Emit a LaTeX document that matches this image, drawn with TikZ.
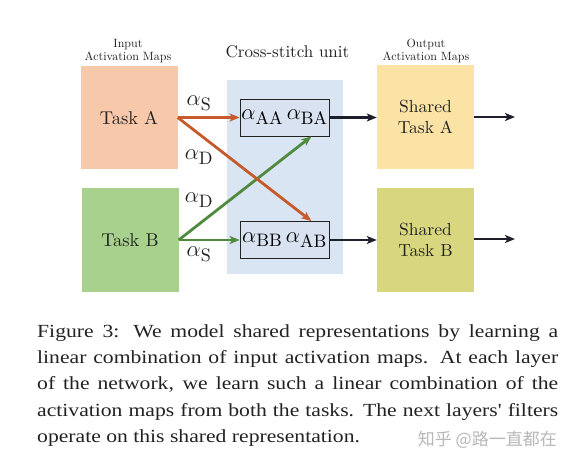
\RequirePackage{fix-cm}
\documentclass[tikz,border=0pt]{standalone}
\usepackage{fontspec}
\usetikzlibrary{arrows.meta,calc}
\setmainfont{lmroman10-regular.otf}
\newfontfamily\capfont{Liberation Serif}[FakeStretch=1.17]
\newfontfamily\cjk{Noto Sans CJK SC}
\DeclareMathSizes{22.5}{22.5}{18}{13}
\definecolor{taskAc}{HTML}{F8C8AA}
\definecolor{taskBc}{HTML}{A9D18E}
\definecolor{shAc}{HTML}{FBE3A6}
\definecolor{shBc}{HTML}{D8D77F}
\definecolor{unitc}{HTML}{DAE5F4}
\definecolor{abc}{HTML}{D8E2F0}
\definecolor{orangec}{HTML}{C65A2A}
\definecolor{greenc}{HTML}{4F8A3F}
\definecolor{darkc}{HTML}{1F1F2B}
\definecolor{textc}{HTML}{222222}
\tikzset{
  mapbox/.style={minimum width=97pt,minimum height=104pt,inner sep=0pt,align=center,text=textc,
    font=\fontsize{17.5}{20.5}\selectfont},
  taskfont/.style={font=\fontsize{18.5}{20}\selectfont},
  abbox/.style={draw=textc,line width=0.8pt,fill=abc,minimum width=89pt,minimum height=37pt,inner sep=0pt,
    font=\fontsize{22.5}{24}\selectfont},
  smalltitle/.style={align=center,text=textc,font=\fontsize{12}{13}\selectfont,inner sep=0pt},
  alab/.style={font=\fontsize{22.5}{24}\selectfont,inner sep=0pt,text=textc},
  tip/.style={-{Stealth[length=10pt,width=8pt,inset=2.5pt]}},
  oarrow/.style={tip,draw=orangec,line width=2.8pt},
  garrow/.style={tip,draw=greenc,line width=2.8pt},
  karrow/.style={tip,draw=darkc,line width=2.8pt},
}
\begin{document}
\begin{tikzpicture}[x=1pt,y=-1pt]
\useasboundingbox (0,0) rectangle (571,465);
\fill[white] (0,0) rectangle (571,465);
% titles
\node[smalltitle] (tin) at (128,51.5) {Input\\Activation Maps};
\node[smalltitle] (tout) at (426,51) {Output\\Activation Maps};
\node[text=textc,font=\fontsize{17}{19}\selectfont,inner sep=0pt] (tunit) at (287.5,52) {Cross-stitch unit};
% unit background
\node[fill=unitc,minimum width=116pt,minimum height=194pt,inner sep=0pt] (unit) at (285,177) {};
% input maps
\node[mapbox,taskfont,fill=taskAc,minimum height=103pt] (taskA) at (129,117.5) {Task A};
\node[mapbox,taskfont,fill=taskBc] (taskB) at (130,240) {Task B};
% output maps
\node[mapbox,fill=shAc] (shA) at (425.5,117) {Shared\\Task A};
\node[mapbox,fill=shBc] (shB) at (425.5,240) {Shared\\Task B};
% alpha boxes
\node[abbox] (abA) at (284.5,117.5) {$\alpha_{\mathrm{AA}}\,\alpha_{\mathrm{BA}}$};
\node[abbox] (abB) at (284.5,240) {$\alpha_{\mathrm{BB}}\,\alpha_{\mathrm{AB}}$};
% helper coordinates
\coordinate (abAin) at ($(abA.south west)!0.8!(abA.south east)$);
\coordinate (abBin) at ($(abB.north west)!0.8!(abB.north east)$);
\coordinate (outA) at (515,117);
\coordinate (outB) at (515,239);
% arrows
\draw[garrow] (taskB.east) -- (abB.west);
\draw[garrow] (taskB.east) -- (abAin);
\draw[oarrow] (taskA.east) -- (abA.west);
\draw[oarrow] (taskA.east) -- (abBin);
\draw[karrow] (abA.east) -- (shA.west |- abA.east);
\draw[karrow] (abB.east) -- (shB.west |- abB.east);
\draw[karrow] (shA.east |- outA) -- (outA);
\draw[karrow] (shB.east |- outB) -- (outB);
% alpha labels
\node[alab] (lsA) at (199,103) {$\alpha_{\mathrm{S}}$};
\node[alab] (ldA) at (199,157) {$\alpha_{\mathrm{D}}$};
\node[alab] (ldB) at (199,200) {$\alpha_{\mathrm{D}}$};
\node[alab] (lsB) at (199,254) {$\alpha_{\mathrm{S}}$};
% caption
\node[anchor=north west,inner sep=0pt,text width=521pt,align=justify,text=textc,
  font=\capfont\fontsize{18.5}{26.2}\selectfont] (cap) at (37,324.5)
  {Figure 3: We model shared representations by learning a\linebreak
   linear combination of input activation maps. At each layer\linebreak
   of the network, we learn such a linear combination of the\linebreak
   activation maps from both the tasks. The next layers' filters\linebreak
   operate on this shared representation.};
\node[text=black!28,font=\cjk\fontsize{17}{20}\selectfont,inner sep=0pt,anchor=east] (wm) at (557,440) {知乎 @路一直都在};
\end{tikzpicture}
\end{document}
